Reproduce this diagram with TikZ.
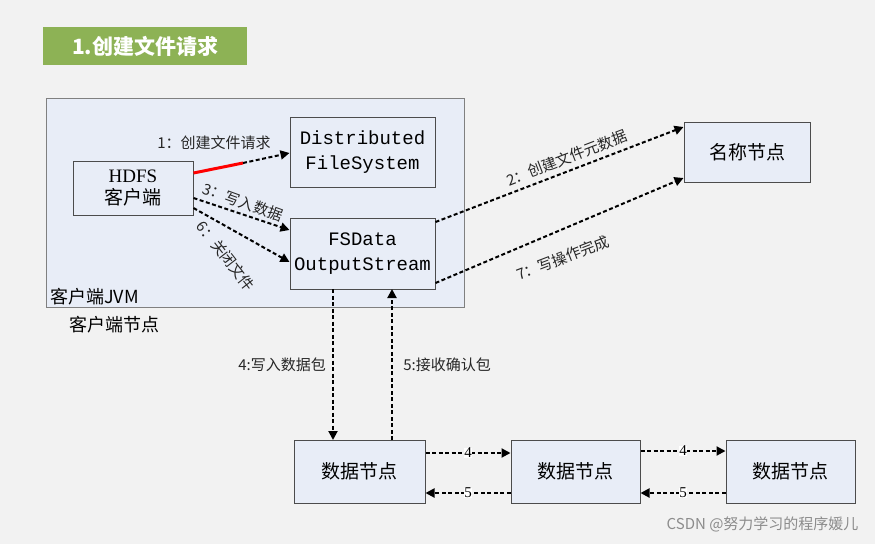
\documentclass[tikz,border=0pt]{standalone}
\usepackage{fontspec}
\setmainfont{Liberation Serif}
\newfontfamily\cjk{Noto Sans CJK SC}
\newfontfamily\monof{Liberation Mono}
\usetikzlibrary{arrows.meta}
\definecolor{bgc}{HTML}{F2F2F2}
\definecolor{boxc}{HTML}{E8EDF7}
\definecolor{titc}{HTML}{8DB255}
\tikzset{
 bx/.style={draw=black!70,fill=boxc,line width=1pt,inner sep=0pt,align=center,font=\cjk\fontsize{19}{22}\selectfont},
 ar/.style={line width=2pt,dash pattern=on 4pt off 2.5pt,-{Triangle[length=9pt,width=9pt]}},
 lb/.style={font=\cjk\fontsize{15}{17}\selectfont,text=black!85,inner sep=1pt},
 nl/.style={fill=white,inner sep=0.5pt,font=\fontsize{15}{17}\selectfont},
}
\begin{document}
\begin{tikzpicture}[x=1pt,y=-1pt]
\fill[bgc] (0,0) rectangle (875,544);
\node[fill=titc,minimum width=204pt,minimum height=38pt,text=white,font=\cjk\bfseries\fontsize{21}{24}\selectfont,anchor=north west,inner sep=0pt] (title) at (43,27) {1.创建文件请求};
\node[draw=black!50,fill=boxc,line width=1pt,minimum width=418pt,minimum height=209pt,anchor=north west] (jvm) at (46,98) {};
\node[anchor=south west,font=\cjk\fontsize{18}{20}\selectfont,inner sep=2pt] (jvml) at (48,307) {客户端JVM};
\node[anchor=north west,font=\cjk\fontsize{18}{20}\selectfont] (cn) at (66,313) {客户端节点};
\node[bx,minimum width=120pt,minimum height=54pt] (hdfs) at (133,188) {\fontspec{Liberation Serif}HDFS\\客户端};
\node[bx,minimum width=145pt,minimum height=70pt,font=\monof\fontsize{19}{25}\selectfont] (dfs) at (362.5,152) {Distributed\\FileSystem};
\node[bx,minimum width=145pt,minimum height=71pt,font=\monof\fontsize{19}{25}\selectfont] (fso) at (362.5,253.5) {FSData\\OutputStream};
\node[bx,minimum width=126pt,minimum height=60pt] (nn) at (747,152) {名称节点};
\node[bx,minimum width=131pt,minimum height=63pt] (d1) at (359.5,471.5) {数据节点};
\node[bx,minimum width=129pt,minimum height=63pt] (d2) at (575.5,471.5) {数据节点};
\node[bx,minimum width=129pt,minimum height=63pt] (d3) at (790.5,471.5) {数据节点};
% client arrows
\coordinate (r1) at (243,163);
\draw[red,line width=3pt] (hdfs.east|-0,173) -- (r1);
\draw[ar] (r1) -- (dfs.west|-0,153);
\node[lb] at (214,143) {1：创建文件请求};
\draw[ar] (hdfs.east|-0,198) -- (fso.west|-0,230);
\node[lb,rotate=-20] at (243,202) {3：写入数据};
\draw[ar] (hdfs.east|-0,208) -- (fso.west|-0,262);
\node[lb,rotate=-52] at (226,256) {6：关闭文件};
% name node
\draw[ar] (fso.east|-0,222) -- (nn.west|-0,127);
\node[lb,rotate=21] at (567,158) {2：创建文件元数据};
\draw[ar] (fso.east|-0,283) -- (nn.west|-0,178);
\node[lb,rotate=21] at (563,258) {7：写操作完成};
% data nodes
\draw[ar] (333,289) -- (333,440);
\node[lb] at (282,365) {4:写入数据包};
\draw[ar] (392,440) -- (392,289);
\node[lb] at (447,365) {5:接收确认包};
\draw[ar] (d1.east|-0,453) -- node[nl]{4} (d2.west|-0,453);
\draw[ar] (d2.west|-0,493) -- node[nl]{5} (d1.east|-0,493);
\draw[ar] (d2.east|-0,451) -- node[nl]{4} (d3.west|-0,451);
\draw[ar] (d3.west|-0,493) -- node[nl]{5} (d2.east|-0,493);
\node[anchor=east,text=black!45,font=\cjk\fontsize{15}{17}\selectfont] (wm) at (862,524) {CSDN @努力学习的程序媛儿};
\end{tikzpicture}
\end{document}
